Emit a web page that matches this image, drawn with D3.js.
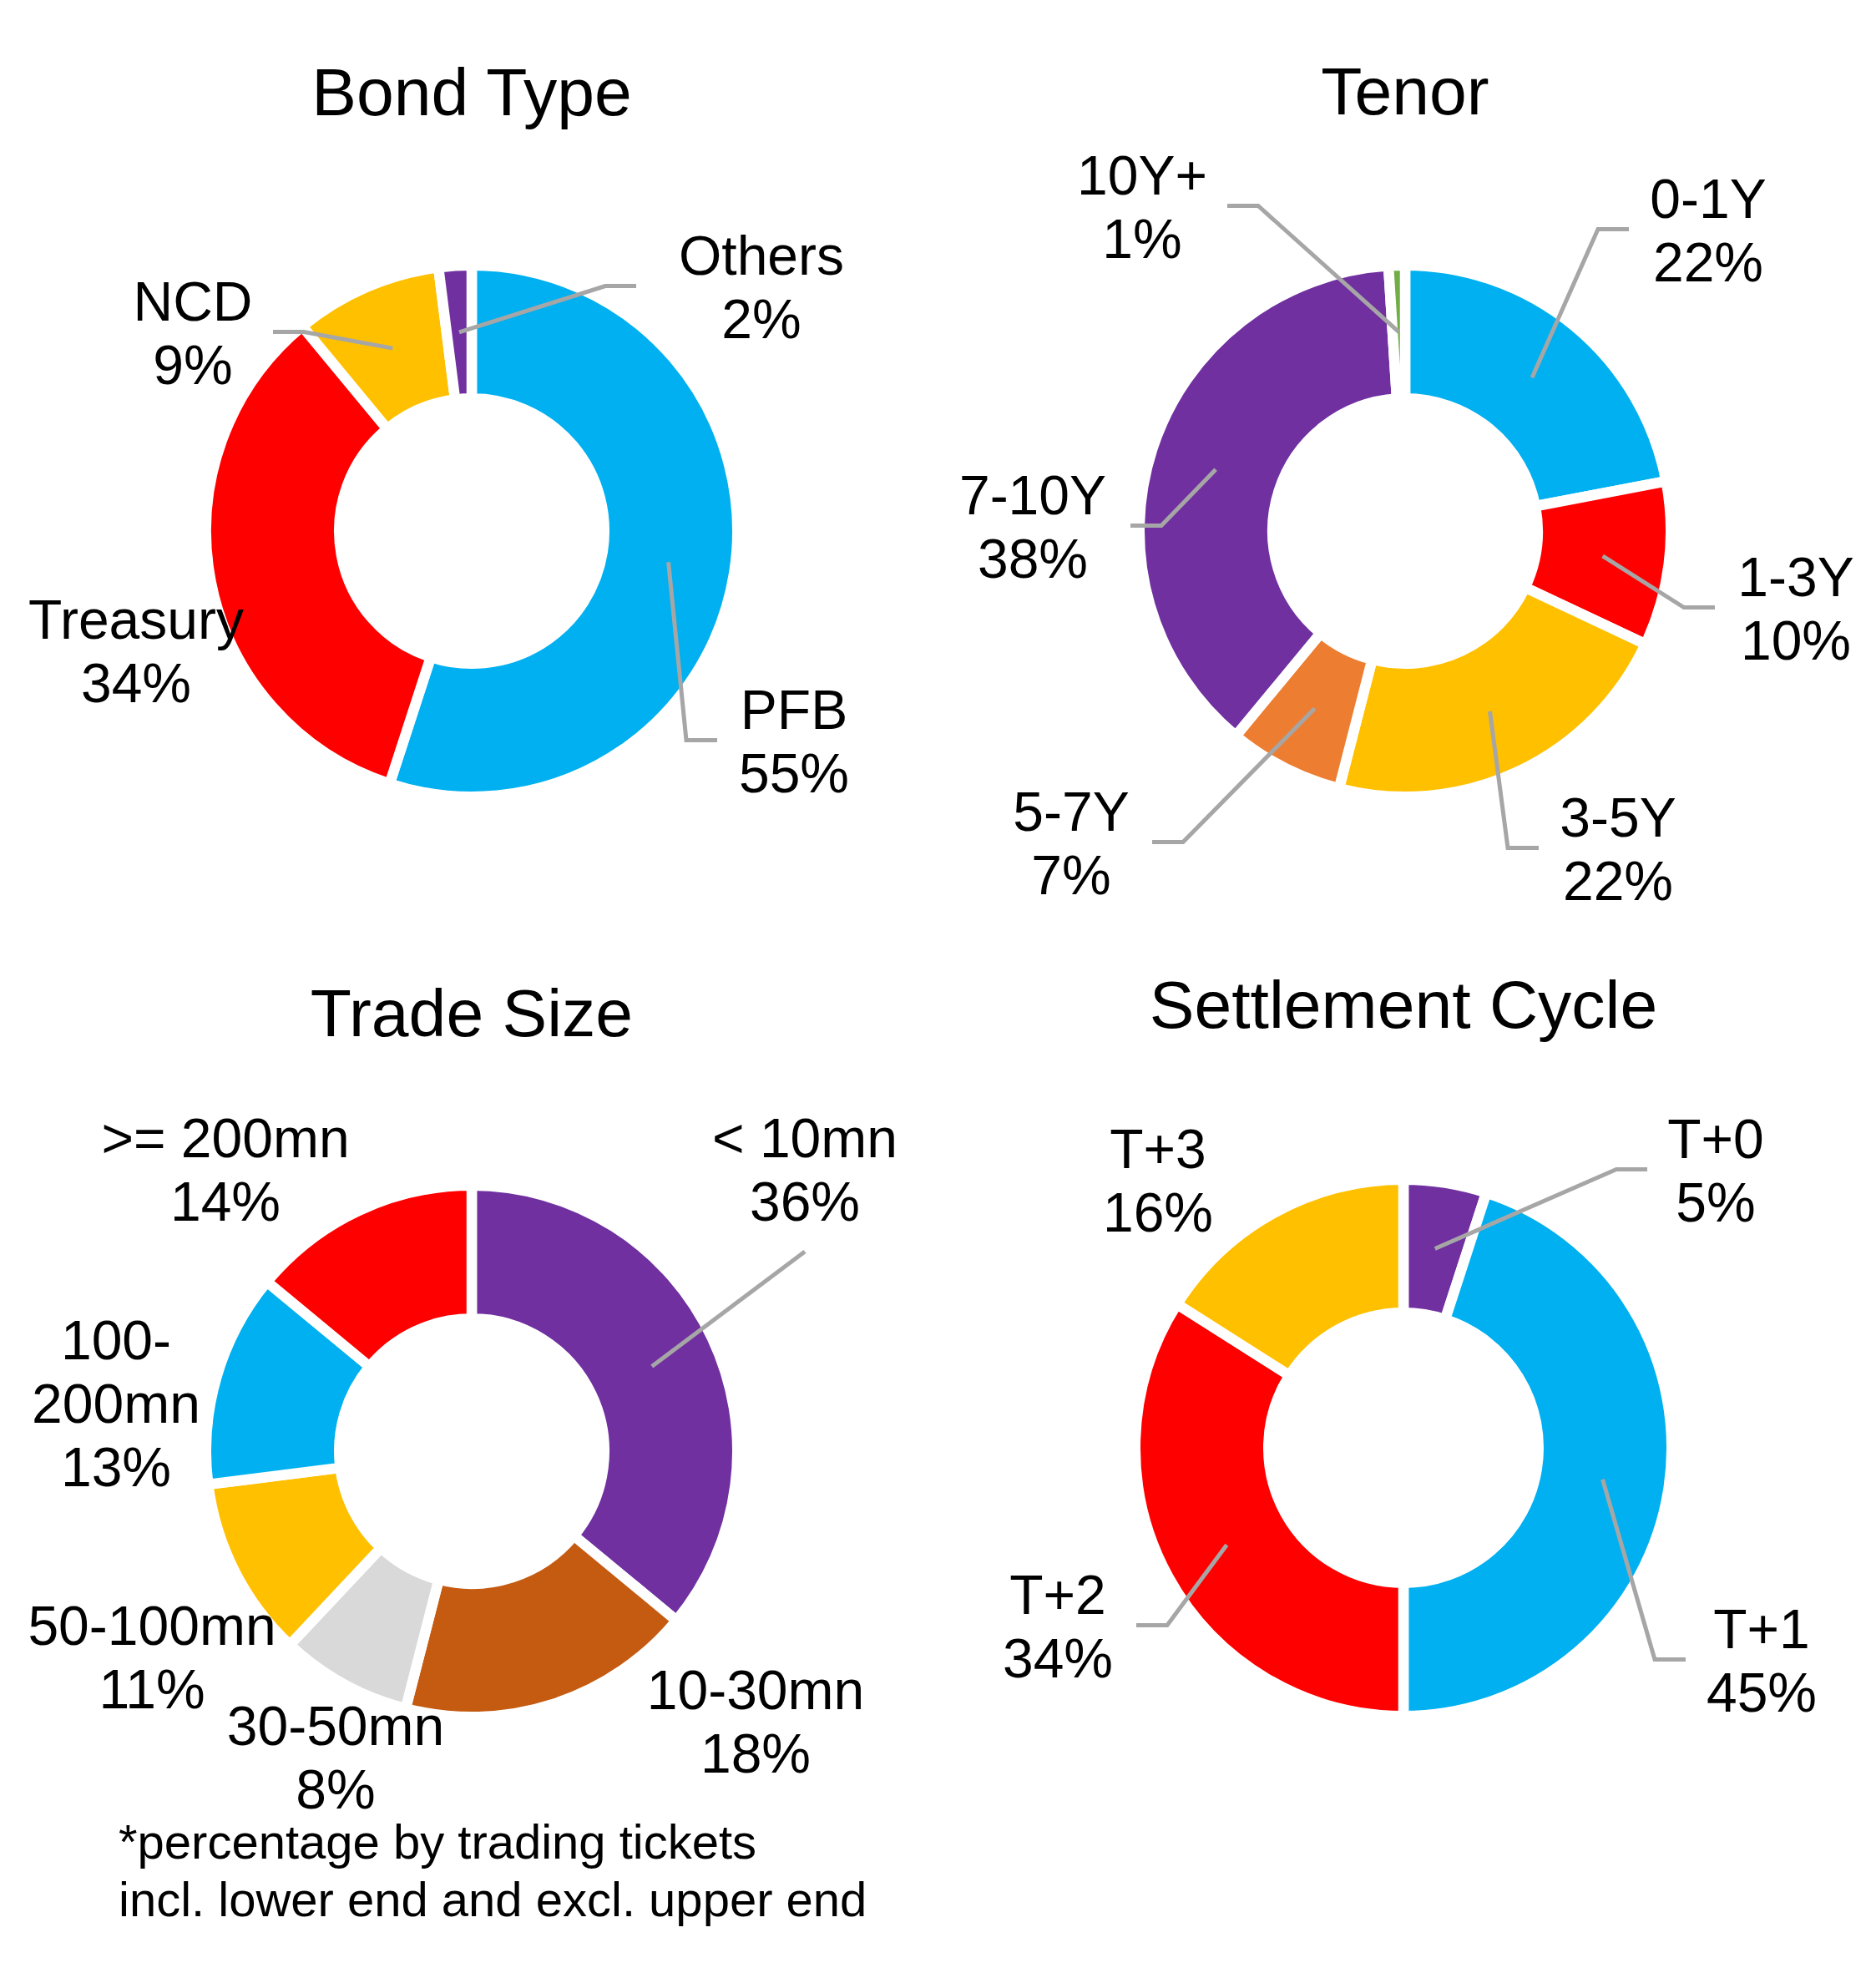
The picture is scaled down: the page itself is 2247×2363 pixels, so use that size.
<!DOCTYPE html>
<html><head><meta charset="utf-8">
<script src="https://cdn.jsdelivr.net/npm/d3@7"></script>
<style>html,body{margin:0;padding:0;background:#fff;} svg{display:block}</style>
</head><body><div id="chart"></div>
<script>
// ---------------- DATA ----------------
const bondCategories = ["PFB", "Treasury", "NCD", "Others"];
const bondValues = [55, 34, 9, 2];

const tenorCategories = ["0-1Y", "1-3Y", "3-5Y", "5-7Y", "7-10Y", "10Y+"];
const tenorValues = [22, 10, 22, 7, 38, 1];

const sizeCategories = ["< 10mn", "10-30mn", "30-50mn", "50-100mn", "100-200mn", ">= 200mn"];
const sizeValues = [36, 18, 8, 11, 13, 14];

const settleCategories = ["T+0", "T+1", "T+2", "T+3"];
const settleValues = [5, 45, 34, 16];

const chartTitles = ["Bond Type", "Tenor", "Trade Size", "Settlement Cycle"];
const footnoteLines = ["*percentage by trading tickets", "incl. lower end and excl. upper end"];

// ---------------- STYLE / LAYOUT ----------------
const bondColors = ["#00B0F0", "#FF0000", "#FFC000", "#7030A0"];
const tenorColors = ["#00B0F0", "#FF0000", "#FFC000", "#ED7D31", "#7030A0", "#70AD47"];
const sizeColors = ["#7030A0", "#C55A11", "#D9D9D9", "#FFC000", "#00B0F0", "#FF0000"];
const settleColors = ["#7030A0", "#00B0F0", "#FF0000", "#FFC000"];

const W = 2247, H = 2363;
const FONT = "'Liberation Sans', Arial, Helvetica, sans-serif";
const GAP = 12.5;          // white separator width
const LINE_H = 76;         // label line spacing
const LEADER_SEG = 37;     // horizontal part of leader lines
const TITLE_SIZE = 80.5, LABEL_SIZE = 66, NOTE_SIZE = 58;

// label layout: lx/ly = label centre x / first baseline relative to donut centre,
// ex = leader elbow x (relative), straight = leader goes directly to label
const panels = [
  { title: chartTitles[0], cats: bondCategories, vals: bondValues, colors: bondColors,
    cx: 565, cy: 636, R: 312, r: 165, titleDy: -498,
    labels: [
      { lx: 386, ly: 237, ex: 257 },
      { lx: -402, ly: 129 },
      { lx: -334, ly: -252, ex: -201 },
      { lx: 347, ly: -307, ex: 160 }
    ] },
  { title: chartTitles[1], cats: tenorCategories, vals: tenorValues, colors: tenorColors,
    cx: 1683, cy: 636, R: 312, r: 165, titleDy: -499,
    labels: [
      { lx: 363, ly: -375, ex: 231 },
      { lx: 468, ly: 78, ex: 334 },
      { lx: 255, ly: 366, ex: 123 },
      { lx: -400, ly: 359, ex: -266 },
      { lx: -446, ly: -20, ex: -292 },
      { lx: -315, ly: -403, ex: -176 }
    ] },
  { title: chartTitles[2], cats: sizeCategories, vals: sizeValues, colors: sizeColors,
    cx: 565, cy: 1738, R: 312, r: 165, titleDy: -497,
    labels: [
      { lx: 399, ly: -352, straight: true },
      { lx: 340, ly: 309 },
      { lx: -163, ly: 352 },
      { lx: -383, ly: 232 },
      { lx: -426, ly: -110, wrap: true },
      { lx: -295, ly: -352 }
    ] },
  { title: chartTitles[3], cats: settleCategories, vals: settleValues, colors: settleColors,
    cx: 1681, cy: 1734, R: 315, r: 168, titleDy: -503,
    labels: [
      { lx: 374, ly: -347, ex: 255 },
      { lx: 429, ly: 240, ex: 301 },
      { lx: -414, ly: 199, ex: -283 },
      { lx: -294, ly: -335 }
    ] }
];

const svg = d3.select("#chart").append("svg")
  .attr("width", W).attr("height", H)
  .style("font-family", FONT);

svg.append("rect").attr("width", W).attr("height", H).attr("fill", "#fff");

const pie = d3.pie().sort(null).value(d => d);
const lineGen = d3.line();

panels.forEach(p => {
  const g = svg.append("g").attr("transform", `translate(${p.cx},${p.cy})`);
  const arc = d3.arc().innerRadius(p.r - GAP / 2).outerRadius(p.R + GAP / 2);
  const color = d3.scaleOrdinal().domain(p.cats).range(p.colors);
  const arcs = pie(p.vals);

  g.append("text")
    .attr("x", 0).attr("y", p.titleDy)
    .attr("text-anchor", "middle")
    .attr("font-size", TITLE_SIZE)
    .attr("fill", "#000")
    .text(p.title);

  g.selectAll("path.slice").data(arcs).enter().append("path")
    .attr("class", "slice")
    .attr("d", arc)
    .attr("fill", (d, i) => color(p.cats[i]))
    .attr("stroke", "#fff")
    .attr("stroke-width", GAP)
    .attr("stroke-linejoin", "miter");

  // leader lines
  arcs.forEach((d, i) => {
    const L = p.labels[i];
    const c = arc.centroid(d);
    let pts = null;
    if (L.straight) {
      pts = [c, [L.lx, L.ly + LINE_H + 37]];
    } else if (L.ex !== undefined) {
      const yy = L.ly + 13.5;
      const sgn = Math.sign(L.lx - L.ex);
      pts = [c, [L.ex, yy], [L.ex + sgn * LEADER_SEG, yy]];
    }
    if (pts) {
      g.append("path")
        .attr("d", lineGen(pts))
        .attr("fill", "none")
        .attr("stroke", "#A6A6A6")
        .attr("stroke-width", 5);
    }
  });

  // labels
  arcs.forEach((d, i) => {
    const L = p.labels[i];
    const name = p.cats[i];
    let lines;
    if (L.wrap) {
      const k = name.indexOf("-");
      lines = [name.slice(0, k + 1), name.slice(k + 1)];
    } else {
      lines = [name];
    }
    lines.push(d3.format("d")(p.vals[i]) + "%");
    const t = g.append("text")
      .attr("text-anchor", "middle")
      .attr("font-size", LABEL_SIZE)
      .attr("fill", "#000");
    lines.forEach((ln, j) => {
      t.append("tspan").attr("x", L.lx).attr("y", L.ly + j * LINE_H).text(ln);
    });
  });
});

// footnote
const fn = svg.append("text").attr("font-size", NOTE_SIZE).attr("fill", "#000");
footnoteLines.forEach((ln, j) => {
  fn.append("tspan").attr("x", 142).attr("y", 2226 + j * 69).text(ln);
});
</script>
</body></html>
